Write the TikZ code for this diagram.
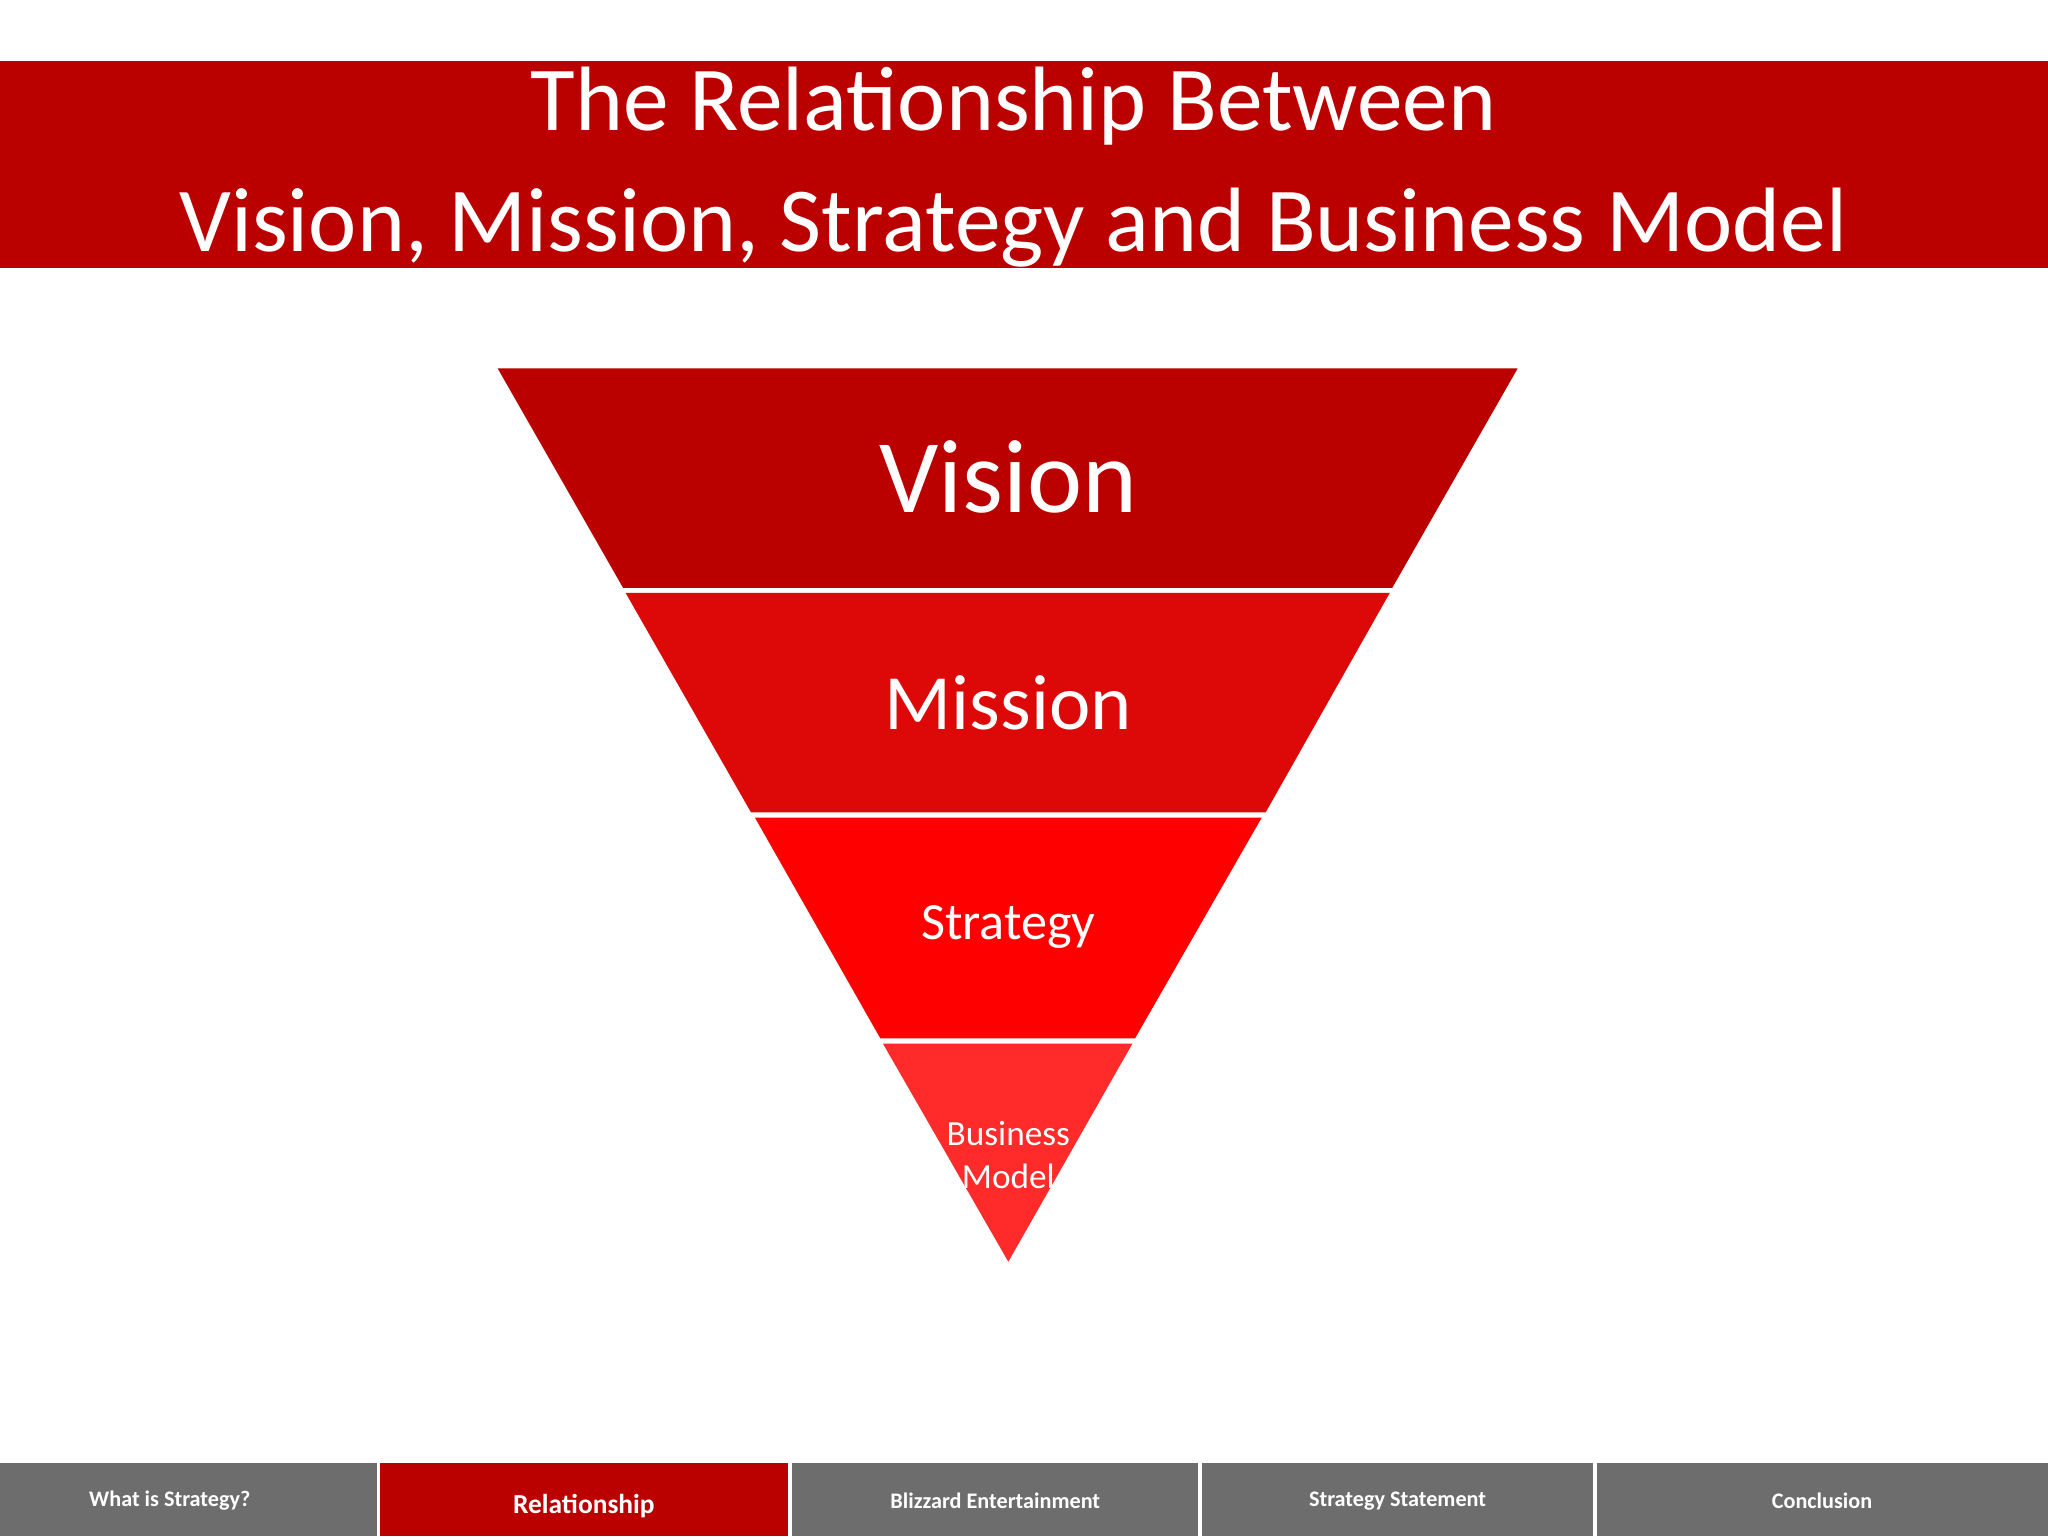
\documentclass[tikz,border=0pt]{standalone}
\usepackage{fontspec}
\setmainfont{Carlito}
\definecolor{dred}{HTML}{BB0000}
\definecolor{mred}{HTML}{DD0808}
\definecolor{sred}{HTML}{FF0000}
\definecolor{bred}{HTML}{FF2A2A}
\definecolor{tabgray}{HTML}{6D6D6D}
\tikzset{wtxt/.style={text=white,align=center,inner sep=0pt},
 tab/.style={fill=tabgray,draw=none},
 tabtxt/.style={text=white,font=\bfseries\fontsize{17}{20}\selectfont,inner sep=0pt}}
\begin{document}
\begin{tikzpicture}[x=1pt,y=-1pt]
\useasboundingbox (0,0) rectangle (1568,1176);
\fill[white] (0,0) rectangle (1568,1176);
% title bar
\fill[dred] (0,47) rectangle (1568,205);
\node[wtxt,font=\fontsize{70}{92}\selectfont] (title) at (776,128) {The Relationship Between\\Vision, Mission, Strategy and Business Model};
% pyramid layers
\fill[dred] (381,282) -- (1162,282) -- (1066,450) -- (477,450) -- cycle;
\fill[mred] (479,454) -- (1064,454) -- (969,622) -- (575,622) -- cycle;
\fill[sred] (578,626) -- (966,626) -- (869,795) -- (674,795) -- cycle;
\fill[bred] (676,799) -- (867,799) -- (772,966) -- cycle;
\node[wtxt,font=\fontsize{80}{90}\selectfont] (vision) at (772,365) {Vision};
\node[wtxt,font=\fontsize{60}{70}\selectfont] (mission) at (772,538) {Mission};
\node[wtxt,font=\fontsize{40}{48}\selectfont] (strategy) at (772,710) {Strategy};
\node[wtxt,font=\fontsize{27}{33}\selectfont] (bm) at (772,884) {Business\\Model};
% tabs
\fill[tab] (0,1120) rectangle (289,1176);
\fill[dred] (291,1120) rectangle (603,1176);
\fill[tab] (606,1120) rectangle (917,1176);
\fill[tab] (920,1120) rectangle (1220,1176);
\fill[tab] (1223,1120) rectangle (1568,1176);
\node[tabtxt] (t1) at (130,1149) {What is Strategy?};
\node[tabtxt,font=\bfseries\fontsize{21}{24}\selectfont] (t2) at (447,1153) {Relationship};
\node[tabtxt] (t3) at (762,1149) {Blizzard Entertainment};
\node[tabtxt] (t4) at (1070,1149) {Strategy Statement};
\node[tabtxt] (t5) at (1395,1149) {Conclusion};
\end{tikzpicture}
\end{document}
